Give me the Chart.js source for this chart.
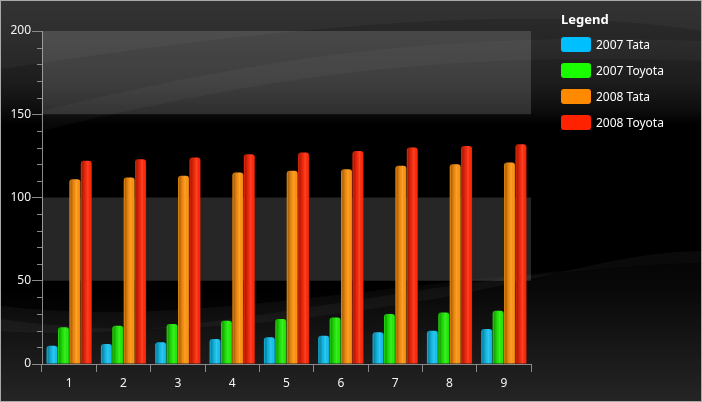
<!DOCTYPE html>
<html>
<head>
<meta charset="utf-8">
<script src="https://cdn.jsdelivr.net/npm/chart.js@4.4.1/dist/chart.umd.min.js"></script>
<style>
  body { margin: 0; background: #000; }
  #wrap { position: relative; width: 700px; height: 400px; border: 1px solid #a9a9a9; }
  #legend { position: absolute; left: 560px; top: 0; font-family: 'Noto Sans', sans-serif; color: #fff; }
  #legend .title { position: absolute; top: 10px; left: 0; font-size: 13px; font-weight: bold; line-height: 16px; white-space: nowrap; }
  #legend .item { position: absolute; left: 0; height: 15px; white-space: nowrap; font-size: 12px; line-height: 15px; }
  #legend .box { position: absolute; left: 0; top: 0; width: 30px; height: 15px; border-radius: 3px; }
  #legend .text { position: absolute; left: 35px; top: 0; }
</style>
</head>
<body>
<div id="wrap">
  <canvas id="chart" width="700" height="400"></canvas>
  <div id="legend"><div class="title">Legend</div></div>
</div>
<script>
// data
const categories = ['1', '2', '3', '4', '5', '6', '7', '8', '9'];
const seriesNames = ['2007 Tata', '2007 Toyota', '2008 Tata', '2008 Toyota'];
const tata2007 = [11, 12, 13, 15, 16, 17, 19, 20, 21];
const toyota2007 = [22, 23, 24, 26, 27, 28, 30, 31, 32];
const tata2008 = [111, 112, 113, 115, 116, 117, 119, 120, 121];
const toyota2008 = [122, 123, 124, 126, 127, 128, 130, 131, 132];
const barColors = ['#14c2f0', '#22ee08', '#ff9410', '#ff2a0a'];
const legendColors = ['#00bfff', '#1aff00', '#ff8a00', '#ff2200'];
const bands = [[50, 100], [150, 200]];

const values = [tata2007, toyota2007, tata2008, toyota2008];

// background with swooshes
const backdrop = {
  id: 'backdrop',
  beforeDraw(chart) {
    const ctx = chart.ctx, w = chart.width, h = chart.height;
    ctx.save();
    let g = ctx.createLinearGradient(0, 0, 0, h);
    g.addColorStop(0, '#2c2c2c');
    g.addColorStop(0.1, '#262626');
    g.addColorStop(0.2, '#1d1d1d');
    g.addColorStop(0.27, '#0e0e0e');
    g.addColorStop(0.31, '#000');
    g.addColorStop(0.72, '#000');
    g.addColorStop(1, '#141414');
    ctx.fillStyle = g;
    ctx.fillRect(0, 0, w, h);

    // top swoosh
    ctx.fillStyle = 'rgba(255,255,255,0.035)';
    ctx.beginPath();
    ctx.moveTo(0, 0);
    ctx.lineTo(w, 0);
    ctx.lineTo(w, 30);
    ctx.bezierCurveTo(520, 0, 250, 30, 0, 68);
    ctx.closePath();
    ctx.fill();
    ctx.fillStyle = 'rgba(255,255,255,0.03)';
    ctx.beginPath();
    ctx.moveTo(40, 110);
    ctx.bezierCurveTo(250, 60, 420, 30, w, 40);
    ctx.lineTo(w, 60);
    ctx.bezierCurveTo(420, 50, 250, 80, 40, 130);
    ctx.closePath();
    ctx.fill();

    // bottom swooshes
    g = ctx.createLinearGradient(0, 250, 0, h);
    g.addColorStop(0, 'rgba(255,255,255,0.02)');
    g.addColorStop(1, 'rgba(255,255,255,0.07)');
    ctx.fillStyle = g;
    ctx.beginPath();
    ctx.moveTo(0, 305);
    ctx.bezierCurveTo(200, 330, 420, 270, w, 262);
    ctx.lineTo(w, h);
    ctx.lineTo(0, h);
    ctx.closePath();
    ctx.fill();
    ctx.fillStyle = 'rgba(255,255,255,0.04)';
    ctx.beginPath();
    ctx.moveTo(0, 318);
    ctx.bezierCurveTo(150, 340, 300, 320, 420, 300);
    ctx.bezierCurveTo(520, 285, 620, 250, w, 250);
    ctx.lineTo(w, 262);
    ctx.bezierCurveTo(420, 270, 200, 345, 0, 330);
    ctx.closePath();
    ctx.fill();
    ctx.restore();
  }
};

// translucent horizontal bands inside the plot
const bandPlugin = {
  id: 'bandPlugin',
  beforeDatasetsDraw(chart) {
    const ctx = chart.ctx, area = chart.chartArea, y = chart.scales.y;
    ctx.save();
    ctx.fillStyle = 'rgba(255,255,255,0.15)';
    bands.forEach(b => {
      const top = y.getPixelForValue(b[1]), bottom = y.getPixelForValue(b[0]);
      ctx.fillRect(area.left, top, area.right - area.left, bottom - top);
    });
    ctx.restore();
  }
};

// minor ticks on the y axis
const minorTicks = {
  id: 'minorTicks',
  afterDraw(chart) {
    const ctx = chart.ctx, y = chart.scales.y, x0 = chart.chartArea.left;
    ctx.save();
    ctx.strokeStyle = '#8a8a8a';
    ctx.lineWidth = 1;
    y.ticks.forEach(t => {
      if (t.value % 50 === 0) return;
      const py = Math.round(y.getPixelForValue(t.value)) + 0.5;
      ctx.beginPath();
      ctx.moveTo(x0 - 5, py);
      ctx.lineTo(x0, py);
      ctx.stroke();
    });
    ctx.restore();
  }
};

// cylinder shading on the bars
const shading = {
  id: 'shading',
  afterDatasetsDraw(chart) {
    const ctx = chart.ctx;
    chart.data.datasets.forEach((ds, i) => {
      chart.getDatasetMeta(i).data.forEach(bar => {
        const left = bar.x - bar.width / 2, w = bar.width, top = bar.y, h = bar.base - bar.y;
        const g = ctx.createLinearGradient(left, 0, left + w, 0);
        g.addColorStop(0, 'rgba(0,0,0,0.05)');
        g.addColorStop(0.15, 'rgba(0,0,0,0.32)');
        g.addColorStop(0.4, 'rgba(0,0,0,0.08)');
        g.addColorStop(0.65, 'rgba(255,255,255,0.12)');
        g.addColorStop(0.88, 'rgba(0,0,0,0)');
        g.addColorStop(1, 'rgba(0,0,0,0.18)');
        ctx.save();
        ctx.fillStyle = g;
        ctx.beginPath();
        ctx.roundRect(left, top, w, h, [3, 3, 0, 0]);
        ctx.fill();
        ctx.restore();
      });
    });
  }
};

const datasets = seriesNames.map((name, i) => ({
  label: name,
  data: values[i],
  backgroundColor: barColors[i],
  borderWidth: 0,
  borderRadius: 3,
  barPercentage: 0.96,
  categoryPercentage: 0.84
}));

const legend = document.getElementById('legend');
seriesNames.forEach((name, i) => {
  const item = document.createElement('div');
  item.className = 'item';
  item.style.top = (36 + i * 26) + 'px';
  item.innerHTML = '<div class="box" style="background:' + legendColors[i] + '"></div><div class="text">' + name + '</div>';
  legend.appendChild(item);
});

new Chart(document.getElementById('chart'), {
  type: 'bar',
  data: { labels: categories, datasets: datasets },
  plugins: [backdrop, bandPlugin, shading, minorTicks],
  options: {
    responsive: false,
    animation: false,
    layout: { padding: { top: 30, right: 170, left: 0, bottom: 0 } },
    plugins: { legend: { display: false }, tooltip: { enabled: false } },
    scales: {
      x: {
        afterFit: s => { s.height = 37; },
        border: { color: '#8a8a8a' },
        grid: { drawOnChartArea: false, tickLength: 8, tickColor: '#8a8a8a', offset: true },
        ticks: { color: '#f4f4f4', padding: 4, font: { family: 'Noto Sans', size: 12 } }
      },
      y: {
        min: 0,
        max: 200,
        afterFit: s => { s.width = 41; },
        border: { color: '#8a8a8a' },
        grid: {
          drawOnChartArea: false,
          tickLength: 10,
          tickColor: c => (c.tick && c.tick.value % 50 === 0) ? '#8a8a8a' : 'rgba(0,0,0,0)'
        },
        ticks: {
          stepSize: 10,
          autoSkip: false,
          padding: 1,
          color: '#f4f4f4',
          font: { family: 'Noto Sans', size: 12 },
          callback: v => v % 50 === 0 ? v : ''
        }
      }
    }
  }
});
</script>
</body>
</html>
